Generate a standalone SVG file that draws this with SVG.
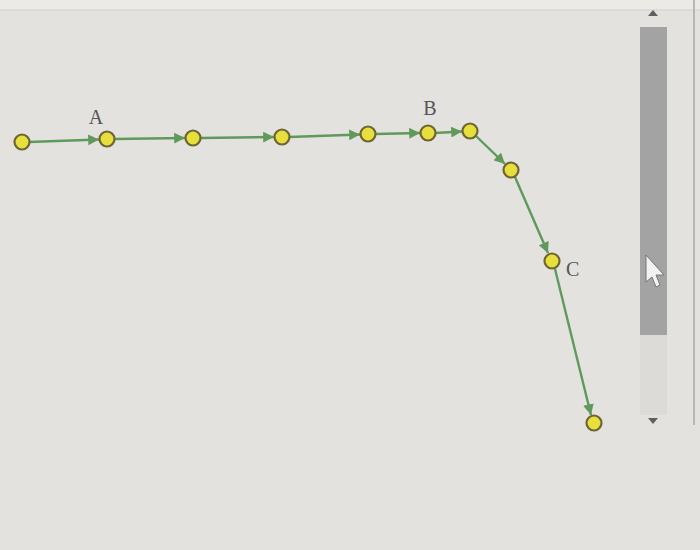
<svg xmlns="http://www.w3.org/2000/svg" width="700" height="550" viewBox="0 0 700 550">
<style>
.edge{stroke:#5f9a5c;stroke-width:2.4;fill:none;marker-end:url(#arr)}
.node{fill:#e6df3c;stroke:#6e6434;stroke-width:2.2}
.lbl{font-family:"Liberation Serif",serif;font-size:20px;fill:#55555a}
</style>
<defs>
<marker id="arr" viewBox="0 0 10 10" refX="10" refY="5" markerWidth="4.5" markerHeight="4.5" orient="auto" markerUnits="strokeWidth">
<path d="M0,0 L10,5 L0,10 z" fill="#5f9a5c"/>
</marker>
</defs>
<rect width="700" height="550" fill="#e3e2de"/>
<rect x="0" y="0" width="700" height="10" fill="#ebeae7"/>
<line x1="0" y1="10" x2="700" y2="10" stroke="#d2d1cd" stroke-width="1"/>
<line x1="694" y1="0" x2="694" y2="425" stroke="#b9b8b5" stroke-width="2"/>
<g id="scrollbar">
<rect x="640" y="27" width="27" height="308" fill="#a3a3a3"/>
<rect x="640" y="335" width="27" height="80" fill="#dcdbd8"/>
<path d="M648,16 L653,10 L658,16 z" fill="#5f5f63"/>
<path d="M648,418 L653,424 L658,418 z" fill="#5f5f63"/>
<path d="M646,255 L646,282 L652,277 L656,287 L660,285 L656,275 L664,275 z" fill="#f2f2f2" stroke="#777" stroke-width="1"/>
</g>
<g id="connectors">
<line class="edge" x1="29" y1="142" x2="99" y2="139.5"/>
<line class="edge" x1="114" y1="139" x2="185" y2="138"/>
<line class="edge" x1="200" y1="138" x2="274" y2="137"/>
<line class="edge" x1="289" y1="137" x2="360" y2="134.5"/>
<line class="edge" x1="375" y1="134" x2="420" y2="133"/>
<line class="edge" x1="435" y1="133" x2="462" y2="131.5"/>
<line class="edge" x1="476" y1="136" x2="505" y2="164"/>
<line class="edge" x1="515" y1="177" x2="548" y2="253"/>
<line class="edge" x1="555" y1="269" x2="591" y2="415"/>
</g>
<g id="n1"><circle class="node" cx="22" cy="142" r="7.5"/></g>
<g id="n2"><circle class="node" cx="107" cy="139" r="7.5"/><text class="lbl" x="96" y="124" text-anchor="middle">A</text></g>
<g id="n3"><circle class="node" cx="193" cy="138" r="7.5"/></g>
<g id="n4"><circle class="node" cx="282" cy="137" r="7.5"/></g>
<g id="n5"><circle class="node" cx="368" cy="134" r="7.5"/></g>
<g id="n6"><circle class="node" cx="428" cy="133" r="7.5"/><text class="lbl" x="430" y="115" text-anchor="middle">B</text></g>
<g id="n7"><circle class="node" cx="470" cy="131" r="7.5"/></g>
<g id="n8"><circle class="node" cx="511" cy="170" r="7.5"/></g>
<g id="n9"><circle class="node" cx="552" cy="261" r="7.5"/><text class="lbl" x="566" y="276">C</text></g>
<g id="n10"><circle class="node" cx="594" cy="423" r="7.5"/></g>
</svg>
